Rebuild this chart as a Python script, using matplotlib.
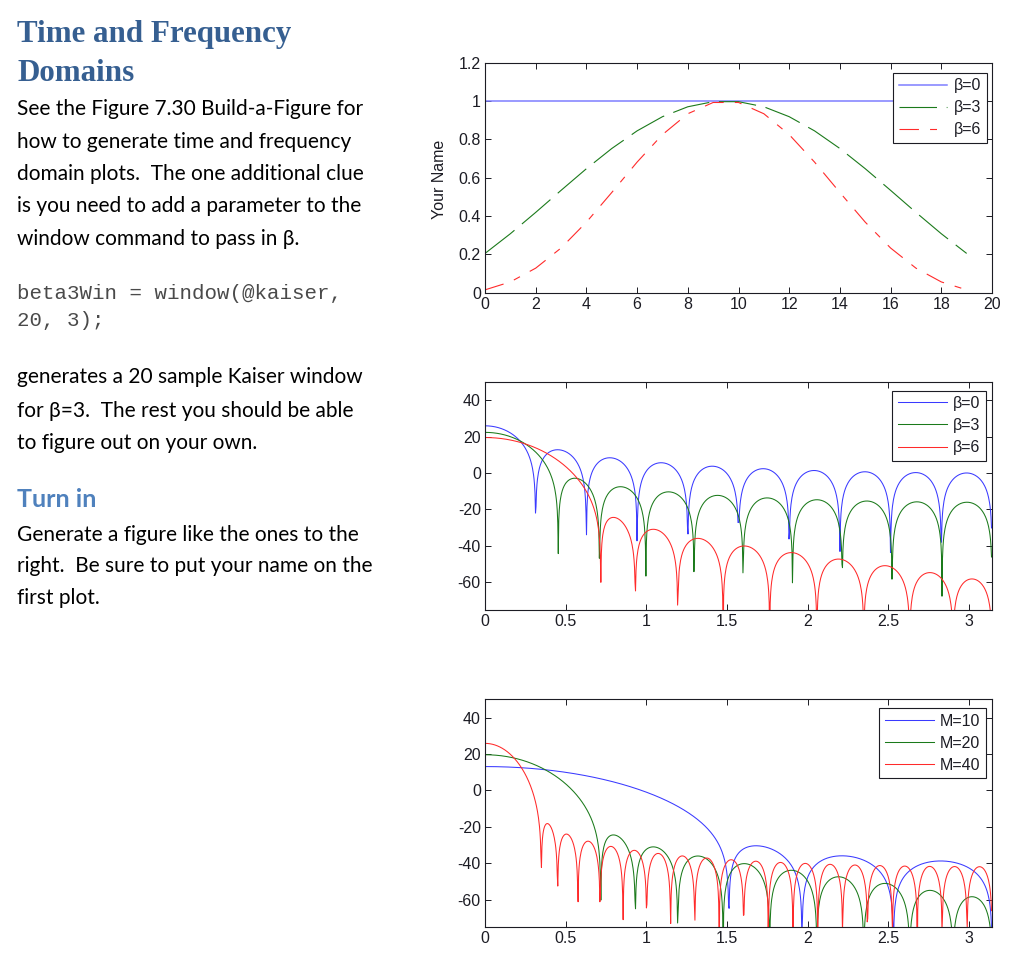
import numpy as np
import matplotlib
matplotlib.use("Agg")
import matplotlib.pyplot as plt
from matplotlib.ticker import FixedLocator, FuncFormatter

# ---------------- data ----------------
sample_index = [0, 1, 2, 3, 4, 5, 6, 7, 8, 9, 10, 11, 12, 13, 14, 15, 16, 17, 18, 19]

kaiser20_beta0 = [1.0, 1.0, 1.0, 1.0, 1.0, 1.0, 1.0, 1.0, 1.0, 1.0,
                  1.0, 1.0, 1.0, 1.0, 1.0, 1.0, 1.0, 1.0, 1.0, 1.0]
kaiser20_beta3 = [0.20488, 0.30767, 0.41901, 0.53393, 0.64691, 0.75223, 0.84435, 0.91831, 0.97003, 0.99664,
                  0.99664, 0.97003, 0.91831, 0.84435, 0.75223, 0.64691, 0.53393, 0.41901, 0.30767, 0.20488]
kaiser20_beta6 = [0.01487, 0.05623, 0.12807, 0.23311, 0.36800, 0.52271, 0.68140, 0.82482, 0.93368, 0.99244,
                  0.99244, 0.93368, 0.82482, 0.68140, 0.52271, 0.36800, 0.23311, 0.12807, 0.05623, 0.01487]
kaiser10_beta6 = [0.01487, 0.13811, 0.40114, 0.73190, 0.96668, 0.96668, 0.73190, 0.40114, 0.13811, 0.01487]
kaiser40_beta6 = [0.01487, 0.03158, 0.05481, 0.08531, 0.12358, 0.16982, 0.22389, 0.28526, 0.35303, 0.42591,
                  0.50227, 0.58018, 0.65748, 0.73190, 0.80109, 0.86282, 0.91501, 0.95585, 0.98391, 0.99820,
                  0.99820, 0.98391, 0.95585, 0.91501, 0.86282, 0.80109, 0.73190, 0.65748, 0.58018, 0.50227,
                  0.42591, 0.35303, 0.28526, 0.22389, 0.16982, 0.12358, 0.08531, 0.05481, 0.03158, 0.01487]

beta_labels = ["β=0", "β=3", "β=6"]
m_labels = ["M=10", "M=20", "M=40"]

time_xticks = [0, 2, 4, 6, 8, 10, 12, 14, 16, 18, 20]
time_yticks = [0, 0.2, 0.4, 0.6, 0.8, 1.0, 1.2]
freq_xticks = [0, 0.5, 1, 1.5, 2, 2.5, 3]
freq_yticks = [-60, -40, -20, 0, 20, 40]

N_FREQ = 1024  # frequency points on [0, pi)

# ---------------- style ----------------
W, H = 1024, 974
plt.rcParams["lines.scale_dashes"] = False
plt.rcParams["font.family"] = ["Liberation Sans", "DejaVu Sans"]

BLUE = "#3a3aff"
GREEN = "#1b7a1b"
RED = "#ff2a2a"
TICK_FS = 11.5
INK = "#1c1c24"

fig = plt.figure(figsize=(W / 100, H / 100), dpi=100)
renderer = fig.canvas.get_renderer()


def px_axes(left, top, right, bottom):
    return fig.add_axes([left / W, 1 - bottom / H, (right - left) / W, (bottom - top) / H])


def style_axes(ax):
    ax.tick_params(direction="in", length=4, width=0.7, top=True, right=True,
                   labelsize=TICK_FS, pad=3, colors=INK)
    for s in ax.spines.values():
        s.set_linewidth(0.8)
        s.set_color(INK)
    fmt = FuncFormatter(lambda v, p: "%g" % v)
    ax.xaxis.set_major_formatter(fmt)
    ax.yaxis.set_major_formatter(fmt)


def add_legend(ax, labels, x1, y1):
    leg = ax.legend(labels=labels, handles=ax.get_lines()[:3], loc="upper right",
                    bbox_to_anchor=(x1, y1), borderaxespad=0, fancybox=False,
                    framealpha=1, edgecolor=INK, fontsize=TICK_FS,
                    handlelength=3.06, handletextpad=0.4, labelspacing=0.44,
                    borderpad=0.34)
    leg.get_frame().set_linewidth(0.8)
    for t in leg.get_texts():
        t.set_color(INK)
    return leg


def spectrum_db(w):
    spec = np.fft.fft(np.asarray(w, dtype=float), 2 * N_FREQ)[:N_FREQ]
    return 20 * np.log10(np.abs(spec))


freqs = np.arange(N_FREQ) * np.pi / N_FREQ

# ---------------- plot 1: time domain ----------------
ax1 = px_axes(485, 62.7, 992, 292.7)
ax1.plot(sample_index, kaiser20_beta0, color="#7f7fff", lw=1.1)
ax1.plot(sample_index, kaiser20_beta3, color=GREEN, lw=0.8, dashes=(27, 7))
ax1.plot(sample_index, kaiser20_beta6, color=RED, lw=0.8, dashes=(14, 8, 5, 8))
ax1.set_xlim(0, 20)
ax1.set_ylim(0, 1.2)
ax1.xaxis.set_major_locator(FixedLocator(time_xticks))
ax1.yaxis.set_major_locator(FixedLocator(time_yticks))
style_axes(ax1)
ax1.set_ylabel("Your Name", fontsize=TICK_FS, color=INK)
ax1.yaxis.set_label_coords(-0.075, 0.494)
add_legend(ax1, beta_labels, 0.9895, 0.9565)

# ---------------- plot 2: beta comparison ----------------
ax2 = px_axes(485, 382.3, 992, 610)
ax2.plot(freqs, spectrum_db(kaiser20_beta0), color=BLUE, lw=0.75)
ax2.plot(freqs, spectrum_db(kaiser20_beta3), color=GREEN, lw=0.75)
ax2.plot(freqs, spectrum_db(kaiser20_beta6), color=RED, lw=0.75)
ax2.set_xlim(0, np.pi)
ax2.set_ylim(-75.5, 50)
ax2.xaxis.set_major_locator(FixedLocator(freq_xticks))
ax2.yaxis.set_major_locator(FixedLocator(freq_yticks))
style_axes(ax2)
add_legend(ax2, beta_labels, 0.988, 0.9635)

# ---------------- plot 3: length comparison ----------------
ax3 = px_axes(485, 699.3, 992, 927)
ax3.plot(freqs, spectrum_db(kaiser10_beta6), color=BLUE, lw=0.75)
ax3.plot(freqs, spectrum_db(kaiser20_beta6), color=GREEN, lw=0.75)
ax3.plot(freqs, spectrum_db(kaiser40_beta6), color=RED, lw=0.75)
ax3.set_xlim(0, np.pi)
ax3.set_ylim(-75, 50)
ax3.xaxis.set_major_locator(FixedLocator(freq_xticks))
ax3.yaxis.set_major_locator(FixedLocator(freq_yticks))
style_axes(ax3)
add_legend(ax3, m_labels, 0.988, 0.960)

# ---------------- document text on the left ----------------
def fit_size(s, target_px, **kw):
    t = fig.text(0, 0, s, fontsize=20, **kw)
    w = t.get_window_extent(renderer=renderer).width
    t.remove()
    return 20 * target_px / w


def place(x_px, y_px, s, size, **kw):
    fig.text(x_px / W, 1 - y_px / H, s, fontsize=size, ha="left", va="baseline", **kw)


title_kw = dict(family=["Liberation Serif", "DejaVu Serif"], fontweight="bold", color="#365F91")
body_kw = dict(family=["Lato", "DejaVu Sans"], color="#000000")
head2_kw = dict(family=["Lato", "DejaVu Sans"], fontweight="bold", color="#4F81BD")
code_kw = dict(family=["Liberation Mono", "DejaVu Sans Mono"], color="#4a4a4a")

title_lines = ["Time and Frequency", "Domains"]
title_base = [41.7, 81]
ts = fit_size(title_lines[0], 275, **title_kw)
for s, y in zip(title_lines, title_base):
    place(17, y, s, ts, **title_kw)

bs = fit_size("See the Figure 7.30 Build-a-Figure for", 348, **body_kw)

para1 = ["See the Figure 7.30 Build-a-Figure for",
         "how to generate time and frequency",
         "domain plots.  The one additional clue",
         "is you need to add a parameter to the",
         "window command to pass in β."]
para1_base = [115, 147.5, 180, 212.5, 245]
for s, y in zip(para1, para1_base):
    place(17, y, s, bs, **body_kw)

code_lines = ["beta3Win = window(@kaiser,", "20, 3);"]
code_base = [299, 326]
cs = fit_size(code_lines[0], 323, **code_kw)
for s, y in zip(code_lines, code_base):
    place(17, y, s, cs, **code_kw)

para2 = ["generates a 20 sample Kaiser window",
         "for β=3.  The rest you should be able",
         "to figure out on your own."]
para2_base = [383.3, 416.7, 449]
for s, y in zip(para2, para2_base):
    place(17, y, s, bs, **body_kw)

hs = fit_size("Turn in", 79, **head2_kw)
place(17, 506.7, "Turn in", hs, **head2_kw)

para3 = ["Generate a figure like the ones to the",
         "right.  Be sure to put your name on the",
         "first plot."]
para3_base = [540.7, 572.3, 604]
for s, y in zip(para3, para3_base):
    place(17, y, s, bs, **body_kw)

fig.savefig("out.png", dpi=100)
